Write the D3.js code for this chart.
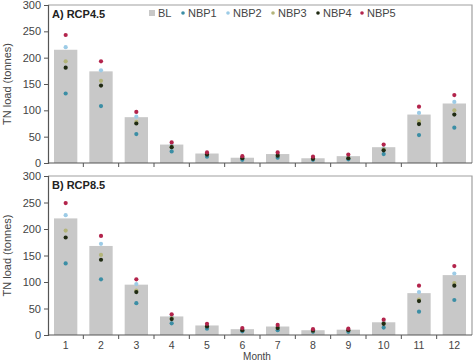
<!DOCTYPE html>
<html><head><meta charset="utf-8">
<script src="https://cdn.jsdelivr.net/npm/d3@7"></script>
<style>body{margin:0;background:#fff}svg{display:block;font-family:Arial,"Liberation Sans",sans-serif}</style>
</head><body><svg id="c" width="474" height="360"></svg>
<script>
const months = ["1","2","3","4","5","6","7","8","9","10","11","12"];
const yTicks = [0,50,100,150,200,250,300];
const seriesNames = ["BL","NBP1","NBP2","NBP3","NBP4","NBP5"];
const seriesColors = ["#c8c8c8","#3b8ea5","#9ccbe6","#b3b47a","#1f2a12","#b3244c"];
const panelTitles = ["A) RCP4.5","B) RCP8.5"];

// Panel A (RCP4.5)
const blA   = [215,174,87,35,18,10,17,9,13,30,92,113];
const nbp1A = [132,108,55,22,12,6,10,6,7,17,53,67];
const nbp2A = [220,176,88,34,18,11,16,10,12,28,95,116];
const nbp3A = [193,156,78,31,17,10,15,9,10,26,79,100];
const nbp4A = [181,147,75,30,16,9,14,8,9,24,74,92];
const nbp5A = [243,193,97,39,20,13,20,12,16,35,107,129];
// Panel B (RCP8.5)
const blB   = [220,168,95,35,18,11,16,9,10,24,79,113];
const nbp1B = [135,105,60,22,12,7,9,6,6,14,44,66];
const nbp2B = [226,172,96,35,19,11,16,9,10,24,81,116];
const nbp3B = [197,151,84,32,17,10,14,8,9,22,67,98];
const nbp4B = [184,142,81,30,16,9,13,8,9,21,64,93];
const nbp5B = [249,187,105,39,21,13,19,11,12,29,93,130];

const panels = [
  {title: panelTitles[0], bl: blA, pts: [nbp1A,nbp2A,nbp3A,nbp4A,nbp5A], top: 5, bottom: 163},
  {title: panelTitles[1], bl: blB, pts: [nbp1B,nbp2B,nbp3B,nbp4B,nbp5B], top: 176, bottom: 335}
];

const svg = d3.select("#c");
const left = 48, right = 472;
const x = d3.scaleBand().domain(months).range([left, right]).paddingInner(0.34).paddingOuter(0.17);
const xb = d3.scaleLinear().domain([0, months.length]).range([left, right]);

panels.forEach((p, pi) => {
  const y = d3.scaleLinear().domain([0,300]).range([p.bottom, p.top]);
  const g = svg.append("g");
  g.append("path").attr("d", `M${left},${p.top}H${right}V${p.bottom}`).attr("fill","none").attr("stroke","#a0a0a0").attr("stroke-width",1.2);
  g.selectAll("rect.bar").data(p.bl).join("rect").attr("class","bar")
    .attr("x",(d,i)=>x(months[i])).attr("width",x.bandwidth())
    .attr("y",d=>y(d)).attr("height",d=>p.bottom-y(d)).attr("fill",seriesColors[0]);
  p.pts.forEach((arr, si) => {
    g.selectAll(null).data(arr).join("circle")
      .attr("cx",(d,i)=>x(months[i])+x.bandwidth()/2).attr("cy",d=>y(d))
      .attr("r",2.1).attr("fill",seriesColors[si+1]);
  });
  const ya = g.append("g").attr("transform",`translate(${left},0)`)
    .call(d3.axisLeft(y).tickValues(yTicks).tickSize(4).tickPadding(3));
  ya.select(".domain").attr("stroke","#555").attr("stroke-width",1.2);
  ya.selectAll(".tick line").attr("stroke","#555");
  ya.selectAll("text").attr("font-size",11).attr("fill","#444");
  const xa = g.append("g").attr("transform",`translate(0,${p.bottom})`);
  xa.append("line").attr("x1",left).attr("x2",right).attr("stroke","#555").attr("stroke-width",1.2);
  xa.selectAll("line.t").data(d3.range(1, months.length)).join("line").attr("class","t")
    .attr("x1",d=>xb(d)).attr("x2",d=>xb(d)).attr("y1",0).attr("y2",4).attr("stroke","#555");
  if (pi === 1) {
    xa.selectAll("text").data(months).join("text")
      .attr("x",d=>x(d)+x.bandwidth()/2).attr("y",13.5).attr("text-anchor","middle")
      .attr("font-size",10.5).attr("fill","#444").text(d=>d);
  }
  g.append("text").attr("x",52).attr("y",p.top+13).attr("font-size",11).attr("font-weight","bold").attr("fill","#222").text(p.title);
  g.append("text").attr("transform",`translate(11,${(p.top+p.bottom)/2}) rotate(-90)`)
    .attr("text-anchor","middle").attr("font-size",11).attr("fill","#444").text("TN load (tonnes)");
});

svg.append("text").attr("x",257).attr("y",359.5).attr("text-anchor","middle").attr("font-size",10).attr("fill","#444").text("Month");

const lg = svg.append("g");
const lx = [149,183,228,273,318,362];
seriesNames.forEach((n,i)=>{
  if (i===0) lg.append("rect").attr("x",lx[i]).attr("y",10).attr("width",6).attr("height",6).attr("fill",seriesColors[0]);
  else lg.append("circle").attr("cx",lx[i]).attr("cy",13).attr("r",1.8).attr("fill",seriesColors[i]);
  lg.append("text").attr("x",lx[i]+(i===0?9:5)).attr("y",17).attr("font-size",11).attr("fill","#444").text(n);
});
</script></body></html>
